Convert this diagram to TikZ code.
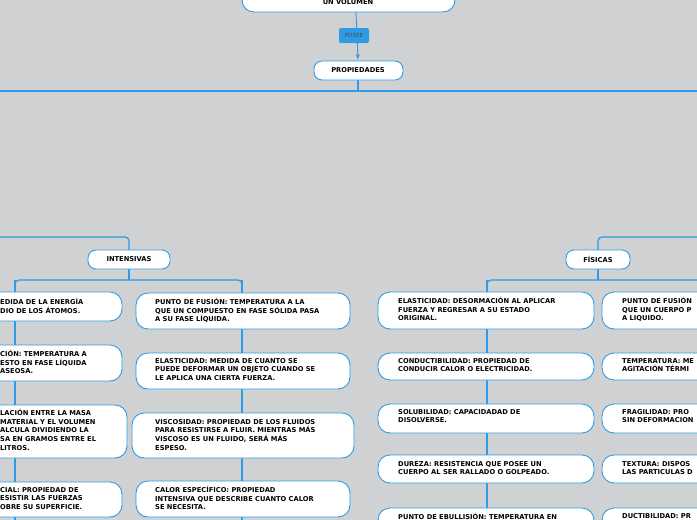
\documentclass[tikz,border=0pt]{standalone}
\usepackage{fontspec}
\setmainfont{DejaVu Sans}
\begin{document}
\begin{tikzpicture}[x=1pt,y=-1pt,
 line/.style={draw=lb,line width=1.3pt,rounded corners=4pt},
 box/.style={draw=lb,fill=white,line width=0.9pt,rounded corners=12pt},
 txt/.style={anchor=north west,align=left,font=\bfseries\fontsize{6.7}{8.7}\selectfont,inner sep=0pt}]
\definecolor{lb}{HTML}{2E9BE6}
\definecolor{bg}{HTML}{D0D1D3}
\fill[bg] (0,0) rectangle (697,520);
\useasboundingbox (0,0) rectangle (697,520);
\begin{scope}
\clip (0,0) rectangle (697,520);
% connectors
\coordinate (pb) at (358,80);
\draw[line] (pb) -- (358,91);
\draw[line] (0,91) -- (697,91);
\draw[line] (0,237) -- (129,237) -- (129,250);
\draw[line] (697,237) -- (598,237) -- (598,250);
\draw[line] (129,269) -- (129,280);
\draw[line] (15,300) -- (15,280) -- (242,280) -- (242,300);
\draw[line] (15,280) -- (15,520);
\draw[line] (242,280) -- (242,520);
\draw[line] (598,269) -- (598,280);
\draw[line] (487,300) -- (487,280) -- (697,280);
\draw[line] (487,280) -- (487,520);
% top
\draw[box] (242,-30) rectangle (455,12);
\node[txt,anchor=center] (top) at (348,2) {UN VOLUMEN};
\draw[box,rounded corners=8pt] (314,61) rectangle (403,80);
\node[txt,anchor=center] (prop) at (358,70.5) {PROPIEDADES};
\draw[lb,line width=0.9pt,-latex] (356,12) -- (358,60);
\node[fill=lb,rounded corners=2pt,minimum width=30pt,minimum height=15pt,inner sep=0pt,font=\fontsize{5.6}{6}\selectfont,text=black!70] (posee) at (354,35.5) {POSEE};
% level 2
\draw[box,rounded corners=8pt] (88,250) rectangle (170,269);
\node[txt,anchor=center] (int) at (129,259.5) {INTENSIVAS};
\draw[box,rounded corners=8pt] (566,250) rectangle (630,269);
\node[txt,anchor=center] (fis) at (598,259.5) {FÍSICAS};
% col1
\draw[box] (-100,292) rectangle (122,321);
\node[txt] (a1) at (0,298) {EDIDA DE LA ENERGÍA\\DIO DE LOS ÁTOMOS.};
\draw[box] (-100,345) rectangle (122,381);
\node[txt] (a2) at (0,350) {CIÓN: TEMPERATURA A\\ESTO EN FASE LÍQUIDA\\ASEOSA.};
\draw[box] (-100,405) rectangle (127,458);
\node[txt] (a3) at (0,409) {LACIÓN ENTRE LA MASA\\MATERIAL Y EL VOLUMEN\\ALCULA DIVIDIENDO LA\\SA EN GRAMOS ENTRE EL\\LITROS.};
\draw[box] (-100,482) rectangle (122,517);
\node[txt] (a4) at (0,487) {CIAL: PROPIEDAD DE\\ESISTIR LAS FUERZAS\\OBRE SU SUPERFICIE.};
% col2
\draw[box] (136,293) rectangle (350,329);
\node[txt] (b1) at (155,298) {PUNTO DE FUSIÓN: TEMPERATURA A LA\\QUE UN COMPUESTO EN FASE SÓLIDA PASA\\A SU FASE LÍQUIDA.};
\draw[box] (136,353) rectangle (350,389);
\node[txt] (b2) at (155,358) {ELASTICIDAD: MEDIDA DE CUANTO SE\\PUEDE DEFORMAR UN OBJETO CUANDO SE\\LE APLICA UNA CIERTA FUERZA.};
\draw[box] (132,413) rectangle (354,458);
\node[txt] (b3) at (155,419) {VISCOSIDAD: PROPIEDAD DE LOS FLUIDOS\\PARA RESISTIRSE A FLUIR. MIENTRAS MÁS\\VISCOSO ES UN FLUIDO, SERÁ MÁS\\ESPESO.};
\draw[box] (136,481) rectangle (350,517);
\node[txt] (b4) at (155,486) {CALOR ESPECÍFICO: PROPIEDAD\\INTENSIVA QUE DESCRIBE CUANTO CALOR\\SE NECESITA.};
% col3
\draw[box] (378,292) rectangle (594,329);
\node[txt] (c1) at (398,297) {ELASTICIDAD: DESORMACIÓN AL APLICAR\\FUERZA Y REGRESAR A SU ESTADO\\ORIGINAL.};
\draw[box] (378,353) rectangle (594,380);
\node[txt] (c2) at (398,358) {CONDUCTIBILIDAD: PROPIEDAD DE\\CONDUCIR CALOR O ELECTRICIDAD.};
\draw[box] (378,404) rectangle (594,433);
\node[txt] (c3) at (398,409) {SOLUBILIDAD: CAPACIDADAD DE\\DISOLVERSE.};
\draw[box] (378,455) rectangle (594,483);
\node[txt] (c4) at (398,461) {DUREZA: RESISTENCIA QUE POSEE UN\\CUERPO AL SER RALLADO O GOLPEADO.};
\draw[box] (378,508) rectangle (594,560);
\node[txt] (c5) at (398,513) {PUNTO DE EBULLISIÓN: TEMPERATURA EN};
% col4
\draw[box] (602,292) rectangle (800,329);
\node[txt] (d1) at (622,297) {PUNTO DE FUSIÓN\\QUE UN CUERPO P\\A LIQUIDO.};
\draw[box] (602,353) rectangle (800,380);
\node[txt] (d2) at (622,358) {TEMPERATURA: ME\\AGITACIÓN TÉRMI};
\draw[box] (602,404) rectangle (800,433);
\node[txt] (d3) at (622,409) {FRAGILIDAD: PRO\\SIN DEFORMACION};
\draw[box] (602,455) rectangle (800,483);
\node[txt] (d4) at (622,461) {TEXTURA: DISPOS\\LAS PARTICULAS D};
\draw[box] (602,508) rectangle (800,560);
\node[txt] (d5) at (622,513) {DUCTIBILIDAD: PR};
\end{scope}
\end{tikzpicture}
\end{document}
